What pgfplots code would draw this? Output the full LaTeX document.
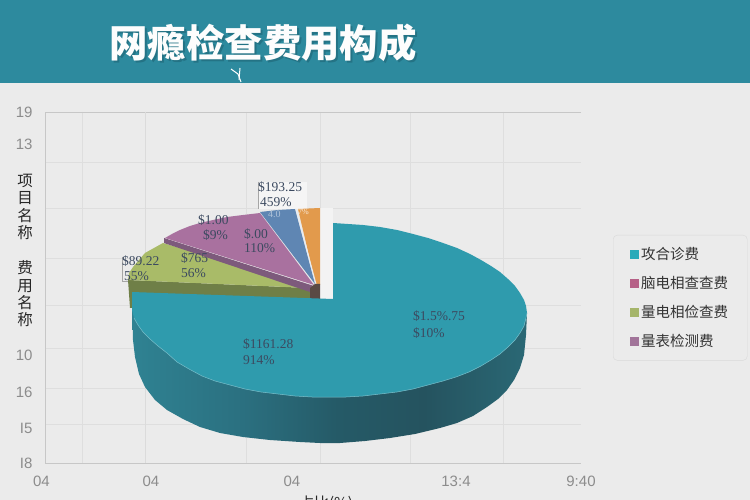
\documentclass[border=0pt]{standalone}
\usepackage{fontspec}
\setmainfont{Noto Sans CJK SC}
\newfontfamily\lab{Liberation Sans}
\newfontfamily\num{Liberation Serif}
\usepackage{pgfplots}
\pgfplotsset{compat=1.18}

\definecolor{bgc}{HTML}{EBEBEB}
\definecolor{head}{HTML}{2D8A9E}
\definecolor{headsh}{HTML}{1E6475}
\definecolor{tface}{HTML}{2F9BAD}
\definecolor{pinkf}{HTML}{A9719F}
\definecolor{pinkw}{HTML}{7D5A7C}
\definecolor{greenf}{HTML}{A9BB68}
\definecolor{greenw}{HTML}{6F7F47}
\definecolor{bluef}{HTML}{5F86B3}
\definecolor{orgf}{HTML}{E29A4C}
\definecolor{darkw}{HTML}{5A4A44}
\definecolor{gridc}{HTML}{DEDEDE}
\definecolor{ticktxt}{HTML}{8C8C8C}
\definecolor{lbl}{HTML}{3C4A60}
\definecolor{wa}{HTML}{2F8292}
\definecolor{wb}{HTML}{2B7080}
\definecolor{wc}{HTML}{255A67}
\definecolor{wd}{HTML}{25535F}
\definecolor{we}{HTML}{2A6875}

\pgfdeclarehorizontalshading{tealwall}{100bp}{
  color(0bp)=(wa);
  color(25bp)=(wa);
  color(39bp)=(wb);
  color(51bp)=(wc);
  color(62bp)=(wd);
  color(75bp)=(we);
  color(100bp)=(we)}

\tikzset{dl/.style={anchor=west,inner sep=0pt,text=lbl,font=\num\fontsize{13.5}{13.5}\selectfont}}
\pgfplotsset{sl/.style={forget plot,draw=none}}

\begin{document}
\begin{tikzpicture}
\useasboundingbox (0,0) rectangle (750pt,500pt);

% page background and header
\begin{axis}[
    at={(0,0)},anchor=south west,
    scale only axis,width=750pt,height=500pt,
    xmin=0,xmax=750,ymin=0,ymax=500,y dir=reverse,
    hide axis,clip=false]
\addplot[sl,fill=bgc] coordinates {(0,0)(750,0)(750,500)(0,500)} -- cycle;
\addplot[sl,fill=head] coordinates {(0,0)(750,0)(750,83)(0,83)} -- cycle;
\addplot[white,line width=1pt,forget plot] coordinates {(231,69)(238,74)(241,82)};
\addplot[white,line width=1pt,forget plot] coordinates {(240,68)(239,80)};
\node[text=headsh,opacity=0.6,font=\fontsize{38.4}{38.4}\selectfont\bfseries] at (axis cs:265,44.5) {网瘾检查费用构成};
\node[text=white!92!bgc,font=\fontsize{38.4}{38.4}\selectfont\bfseries] at (axis cs:263,42.5) {网瘾检查费用构成};
% left axis title
\node[text=black!85,align=center,font=\fontsize{15.5}{17.3}\selectfont] at (axis cs:25,207) {项\\目\\名\\称};
\node[text=black!85,align=center,font=\fontsize{15.5}{17.3}\selectfont] at (axis cs:25,294) {费\\用\\名\\称};
\node[text=black!85,font=\fontsize{15}{15}\selectfont] at (axis cs:326,504) {占比(\%)};
\end{axis}

\begin{axis}[
    at={(45pt,37pt)},anchor=south west,
    scale only axis,width=536pt,height=351pt,
    xmin=45,xmax=581,ymin=112,ymax=463,y dir=reverse,
    clip=false,
    axis line style={draw=none},
    tick style={draw=none},
    /pgf/number format/assume math mode=true,
    xtick={45,151,292,456,581},
    xticklabels={04\hspace*{7pt},04,04,13:4,9:40},
    ytick={112,144,355,392,428,463},
    yticklabels={19,13,10,16,I5,I8},
    tick label style={font=\lab\fontsize{15}{15}\selectfont,text=ticktxt},
    xticklabel style={yshift=-9pt},
    yticklabel style={xshift=-9pt},
    extra x ticks={82,145,246,320,410,503},
    extra x tick labels={},
    extra y ticks={162,208,258,305,348,388,424},
    extra y tick labels={},
    extra tick style={grid=major,major grid style={draw=gridc,line width=0.8pt}},
    legend cell align=left,
    legend style={at={(axis cs:613,235)},anchor=north west,draw=black!15,fill=bgc,
      rounded corners=4pt,row sep=11.4pt,inner xsep=17pt,inner ysep=10pt,
      font=\fontsize{14.5}{16}\selectfont,text=black!80},
    legend image code/.code={\fill[sharp corners,draw=none,#1] (0pt,-4.5pt) rectangle (9pt,4.5pt);}]
\addlegendimage{fill=tface!85!cyan}
\addlegendentry{攻合诊费}
\addlegendimage{fill=pinkf!85!red}
\addlegendentry{脑电相查查费}
\addlegendimage{fill=greenf!90!gray}
\addlegendentry{量电相俭查费}
\addlegendimage{fill=pinkf!80!gray}
\addlegendentry{量表检测费}

% axis frame
\addplot[forget plot,draw=black!22,line width=0.8pt] coordinates {(581,112)(45,112)(45,463)(581,463)};
\addplot[forget plot,draw=black!14,line width=0.8pt] coordinates {(145,112)(145,285)};
\addplot[forget plot,draw=black!14,line width=0.8pt] coordinates {(145,380)(145,463)};
\addplot[sl,fill=white!40!bgc] coordinates {(320,208)(333,208)(333,299)(320,299)} -- cycle;

% label boxes behind the exploded slices
\addplot[sl,fill=white!50!bgc] coordinates {(258,182)(307,182)(307,209)(258,209)} -- cycle;
\addplot[forget plot,draw=black!35,line width=0.5pt] coordinates {(258,182)(258,209)};
\addplot[forget plot,draw=black!35,line width=0.5pt] coordinates {(122,257)(122,281)(130,281)};
\addplot[forget plot,draw=black!30,line width=0.5pt] coordinates {(198,225)(198,240)};

% green slice
\addplot[sl,fill=greenw] coordinates {(128,280)(308,288)(320,298)(320,306)(130,308)} -- cycle;
\addplot[sl,fill=greenf] coordinates {(128,280)(129,273)(133,267)(139,260)(145,253)(154,248)(163,243)(313,287)(308,288)} -- cycle;
% pink slice
\addplot[sl,fill=pinkw] coordinates {(164,238)(164,243)(310,292)(314,286)} -- cycle;
\addplot[sl,fill=pinkf] coordinates {(165,238)(172,234)(180,230)(190,226)(200,223)(213,220)(227,217)(243,215)(260,213)(314,285)} -- cycle;
% blue and orange slices
\addplot[sl,fill=bluef] coordinates {(260,212)(278,210)(295,209)(315,284)} -- cycle;
\addplot[sl,fill=orgf] coordinates {(298,209)(320,208)(320,285)(316,285)} -- cycle;
\addplot[forget plot,draw=white!85!bluef,line width=0.9pt] coordinates {(296,209)(316,284)};
\addplot[sl,fill=darkw] coordinates {(310,288)(315,284)(320,284)(320,299)(310,299)} -- cycle;

% teal slice, wall then face
\addplot[sl,shade,shading=tealwall] coordinates {
  (527,313)(526,335)(524,355)(520,368)(514,380)(507,390)(498,399)(487,407)(473,416)(457,423)
  (440,428)(415,434)(390,438)(365,441)(340,443)(320,443)(300,442)(270,440)(243,437)(220,433)
  (200,427)(183,419)(167,410)(155,400)(145,387)(139,374)(135,357)(133,340)(132,300)(329,310)} -- cycle;
\addplot[sl,fill=tface] coordinates {
  (333,223)(348,224)(363,225)(380,227)(397,230)(413,234)(428,238)(443,243)(457,248)(470,254)
  (481,260)(491,266)(500,272)(508,279)(515,286)(520,293)(524,300)(526,306)(527,313)
  (526,318)(524,326)(520,333)(515,340)(508,347)(500,354)(491,360)(481,366)(469,372)(456,377)
  (443,381)(428,385)(413,389)(397,392)(380,394)(363,396)(346,397)(329,397)(312,397)(295,396)
  (278,394)(261,392)(245,389)(230,385)(215,381)(202,376)(189,369)(177,362)(167,353)(158,346)
  (150,339)(143,332)(138,325)(134,318)(132,310)(132,292)(333,299)} -- cycle;
\addplot[forget plot,draw=tface!65!white,line width=0.5pt] coordinates {
  (527,313)(526,318)(524,326)(520,333)(515,340)(508,347)(500,354)(491,360)(481,366)(469,372)(456,377)
  (443,381)(428,385)(413,389)(397,392)(380,394)(363,396)(346,397)(329,397)(312,397)(295,396)
  (278,394)(261,392)(245,389)(230,385)(215,381)(202,376)(189,369)(177,362)(167,353)(158,346)
  (150,339)(143,332)(138,325)(134,318)};

% data labels
\node[dl] at (axis cs:413,316) {\$1.5\%.75};
\node[dl] at (axis cs:413,333) {\$10\%};
\node[dl] at (axis cs:243,344) {\$1161.28};
\node[dl] at (axis cs:243,360) {914\%};
\node[dl] at (axis cs:122,261) {\$89.22};
\node[dl] at (axis cs:124,276) {55\%};
\node[dl] at (axis cs:181,258) {\$765};
\node[dl] at (axis cs:181,273) {56\%};
\node[dl] at (axis cs:198,220) {\$1.00};
\node[dl] at (axis cs:203,235) {\$9\%};
\node[dl] at (axis cs:244,234) {\$.00};
\node[dl] at (axis cs:244,248) {110\%};
\node[dl] at (axis cs:258,187) {\$193.25};
\node[dl] at (axis cs:260,202) {459\%};
\node[dl,text=bluef!50!white,font=\num\fontsize{10}{10}\selectfont] at (axis cs:268,214) {4.0};
\node[dl,text=white!80!orgf,font=\num\fontsize{8}{8}\selectfont] at (axis cs:298,212) {7\%};
\end{axis}
\end{tikzpicture}
\end{document}
